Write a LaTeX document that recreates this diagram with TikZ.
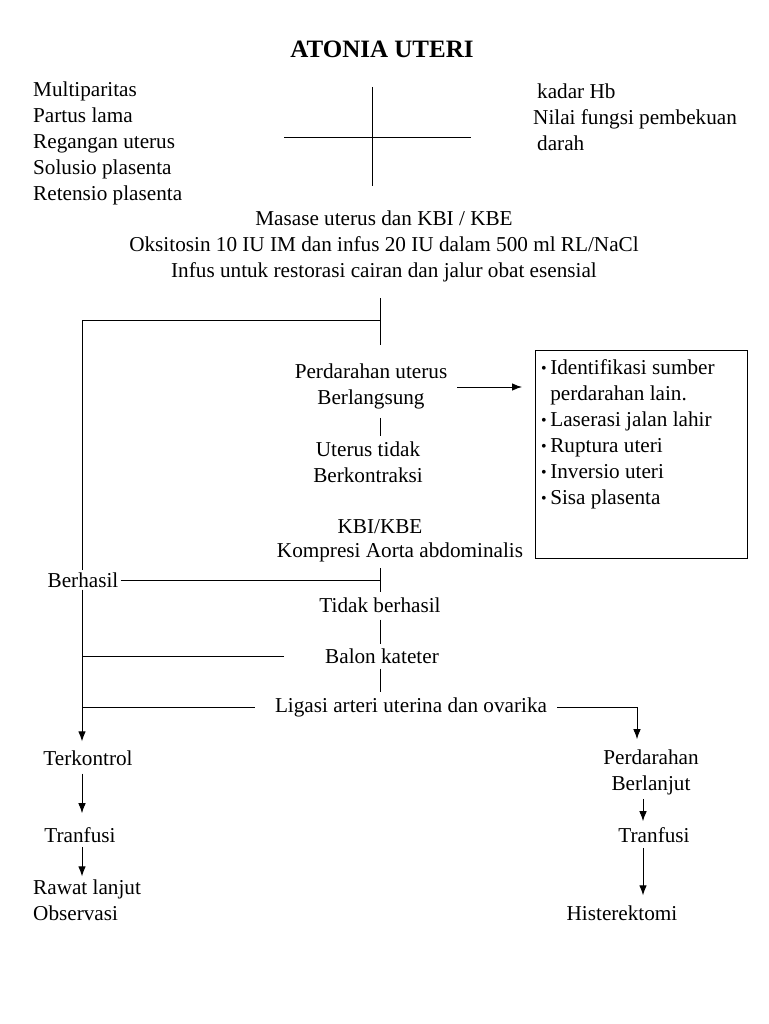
\documentclass[tikz,border=0pt]{standalone}
\usepackage{fontspec}
\setmainfont{Liberation Serif}
\usetikzlibrary{arrows.meta,calc,positioning}

\begin{document}
\begin{tikzpicture}[x=1pt,y=-1pt,
    txt/.style={font=\fontsize{21.2}{26}\selectfont, align=center, inner sep=2pt},
    txtl/.style={txt, align=left, anchor=west},
    ln/.style={line width=0.9pt},
    arr/.style={ln, -{Latex[length=10pt,width=7.5pt]}}]

\useasboundingbox (0,0) rectangle (768,1024);

\node[font=\fontsize{25}{30}\selectfont\bfseries] (title) at (382,49) {ATONIA UTERI};

% faktor penyebab dan pemeriksaan
\node[txtl] (risk) at (31,143) {Multiparitas\\Partus lama\\Regangan uterus\\Solusio plasenta\\Retensio plasenta};
\node[txtl] (lab) at (531,117) {\hspace{4pt}kadar Hb\\Nilai fungsi pembekuan\\\hspace{4pt}darah};

\coordinate (crossT) at (372,87);
\coordinate (crossB) at (372,186);
\coordinate (crossL) at (284,137);
\coordinate (crossR) at (471,137);
\draw[ln] (crossT) -- (crossB);
\draw[ln] (crossL) -- (crossR);

% tindakan awal
\node[txt] (masase) at (384,246) {Masase uterus dan KBI / KBE\\Oksitosin 10 IU IM dan infus 20 IU dalam 500 ml RL/NaCl\\Infus untuk restorasi cairan dan jalur obat esensial};

\coordinate (stemtop) at (380,298);
\coordinate (stembot) at (380,345);
\coordinate (split) at (380,320);
\coordinate (leftline) at (82,320);
\draw[ln] (stemtop) -- (stembot);
\draw[ln] (split) -- (leftline);

\node[txt] (perd) at (371,386) {Perdarahan uterus\\Berlangsung};
\node[draw, ln, minimum width=212pt, minimum height=208pt, anchor=north west] (box) at (535,350) {};
\node[txt, anchor=north west, inner sep=0pt, align=left] (list) at (541,356)
    {\begin{tabular}{@{}l@{\,}l@{}}
     \raisebox{1pt}{\scalebox{0.75}{\textbullet}} & Identifikasi sumber\\
      & perdarahan lain.\\
     \raisebox{1pt}{\scalebox{0.75}{\textbullet}} & Laserasi jalan lahir\\
     \raisebox{1pt}{\scalebox{0.75}{\textbullet}} & Ruptura uteri\\
     \raisebox{1pt}{\scalebox{0.75}{\textbullet}} & Inversio uteri\\
     \raisebox{1pt}{\scalebox{0.75}{\textbullet}} & Sisa plasenta
     \end{tabular}};
\draw[arr, shorten <=8pt, shorten >=13pt] (perd.east |- 0,387) -- (box.west |- 0,387);

\node[txt] (uter) at (368,462) {Uterus tidak\\Berkontraksi};
\draw[ln, shorten <=7pt, shorten >=3pt] (perd.south -| stemtop) -- (uter.north -| stemtop);

\node[txt] (kbi) at (380,527) {KBI/KBE};
\node[txt] (kompresi) at (400,552) {Kompresi Aorta abdominalis};

% berhasil / tidak berhasil
\node[txt] (berhasil) at (83,580) {Berhasil};
\coordinate (tick) at (berhasil.east -| stemtop);
\draw[ln] (leftline) -- (berhasil.north -| leftline);
\draw[ln] (berhasil.east) -- (tick);
\draw[ln] ($(tick)+(0,-12)$) -- ($(tick)+(0,12)$);

\node[txt] (tidak) at (380,605) {Tidak berhasil};
\node[txt] (balon) at (382,656) {Balon kateter};
\node[txt] (ligasi) at (411,707) {Ligasi arteri uterina dan ovarika};
\draw[ln, shorten <=5pt, shorten >=2pt] (tidak.south -| stemtop) -- (balon.north -| stemtop);
\draw[ln, shorten <=3pt, shorten >=3pt] (balon.south -| stemtop) -- (ligasi.north -| stemtop);
\draw[ln, shorten <=39pt] (balon.west) -- (balon.west -| leftline);
\draw[ln, shorten <=18pt] (ligasi.west) -- (ligasi.west -| leftline);

% cabang kiri
\node[txt] (terk) at (88,758) {Terkontrol};
\node[txt] (tran) at (80,835) {Tranfusi};
\node[txtl] (rawat) at (31,900) {Rawat lanjut\\Observasi};
\draw[arr, shorten >=7pt] (berhasil.south -| leftline) -- (terk.north -| leftline);
\draw[arr, shorten <=6pt, shorten >=12pt] (terk.south -| leftline) -- (tran.north -| leftline);
\draw[arr, shorten <=2pt, shorten >=1pt] (tran.south -| leftline) -- (rawat.north -| leftline);

% cabang kanan
\coordinate (ligcorner) at (ligasi.east -| 637,0);
\node[txt] (perd2) at (651,772) {Perdarahan\\Berlanjut};
\node[txt] (tran2) at (654,835) {Tranfusi};
\node[txt] (hister) at (622,913) {Histerektomi};
\draw[arr, shorten <=8pt, shorten >=8pt] (ligasi.east) -- (ligcorner) -- (ligcorner |- perd2.north);
\draw[arr, shorten <=2pt, shorten >=4pt] (perd2.south -| 643,0) -- (tran2.north -| 643,0);
\draw[arr, shorten <=3pt, shorten >=8pt] (tran2.south -| 643,0) -- (hister.north -| 643,0);

\end{tikzpicture}
\end{document}
